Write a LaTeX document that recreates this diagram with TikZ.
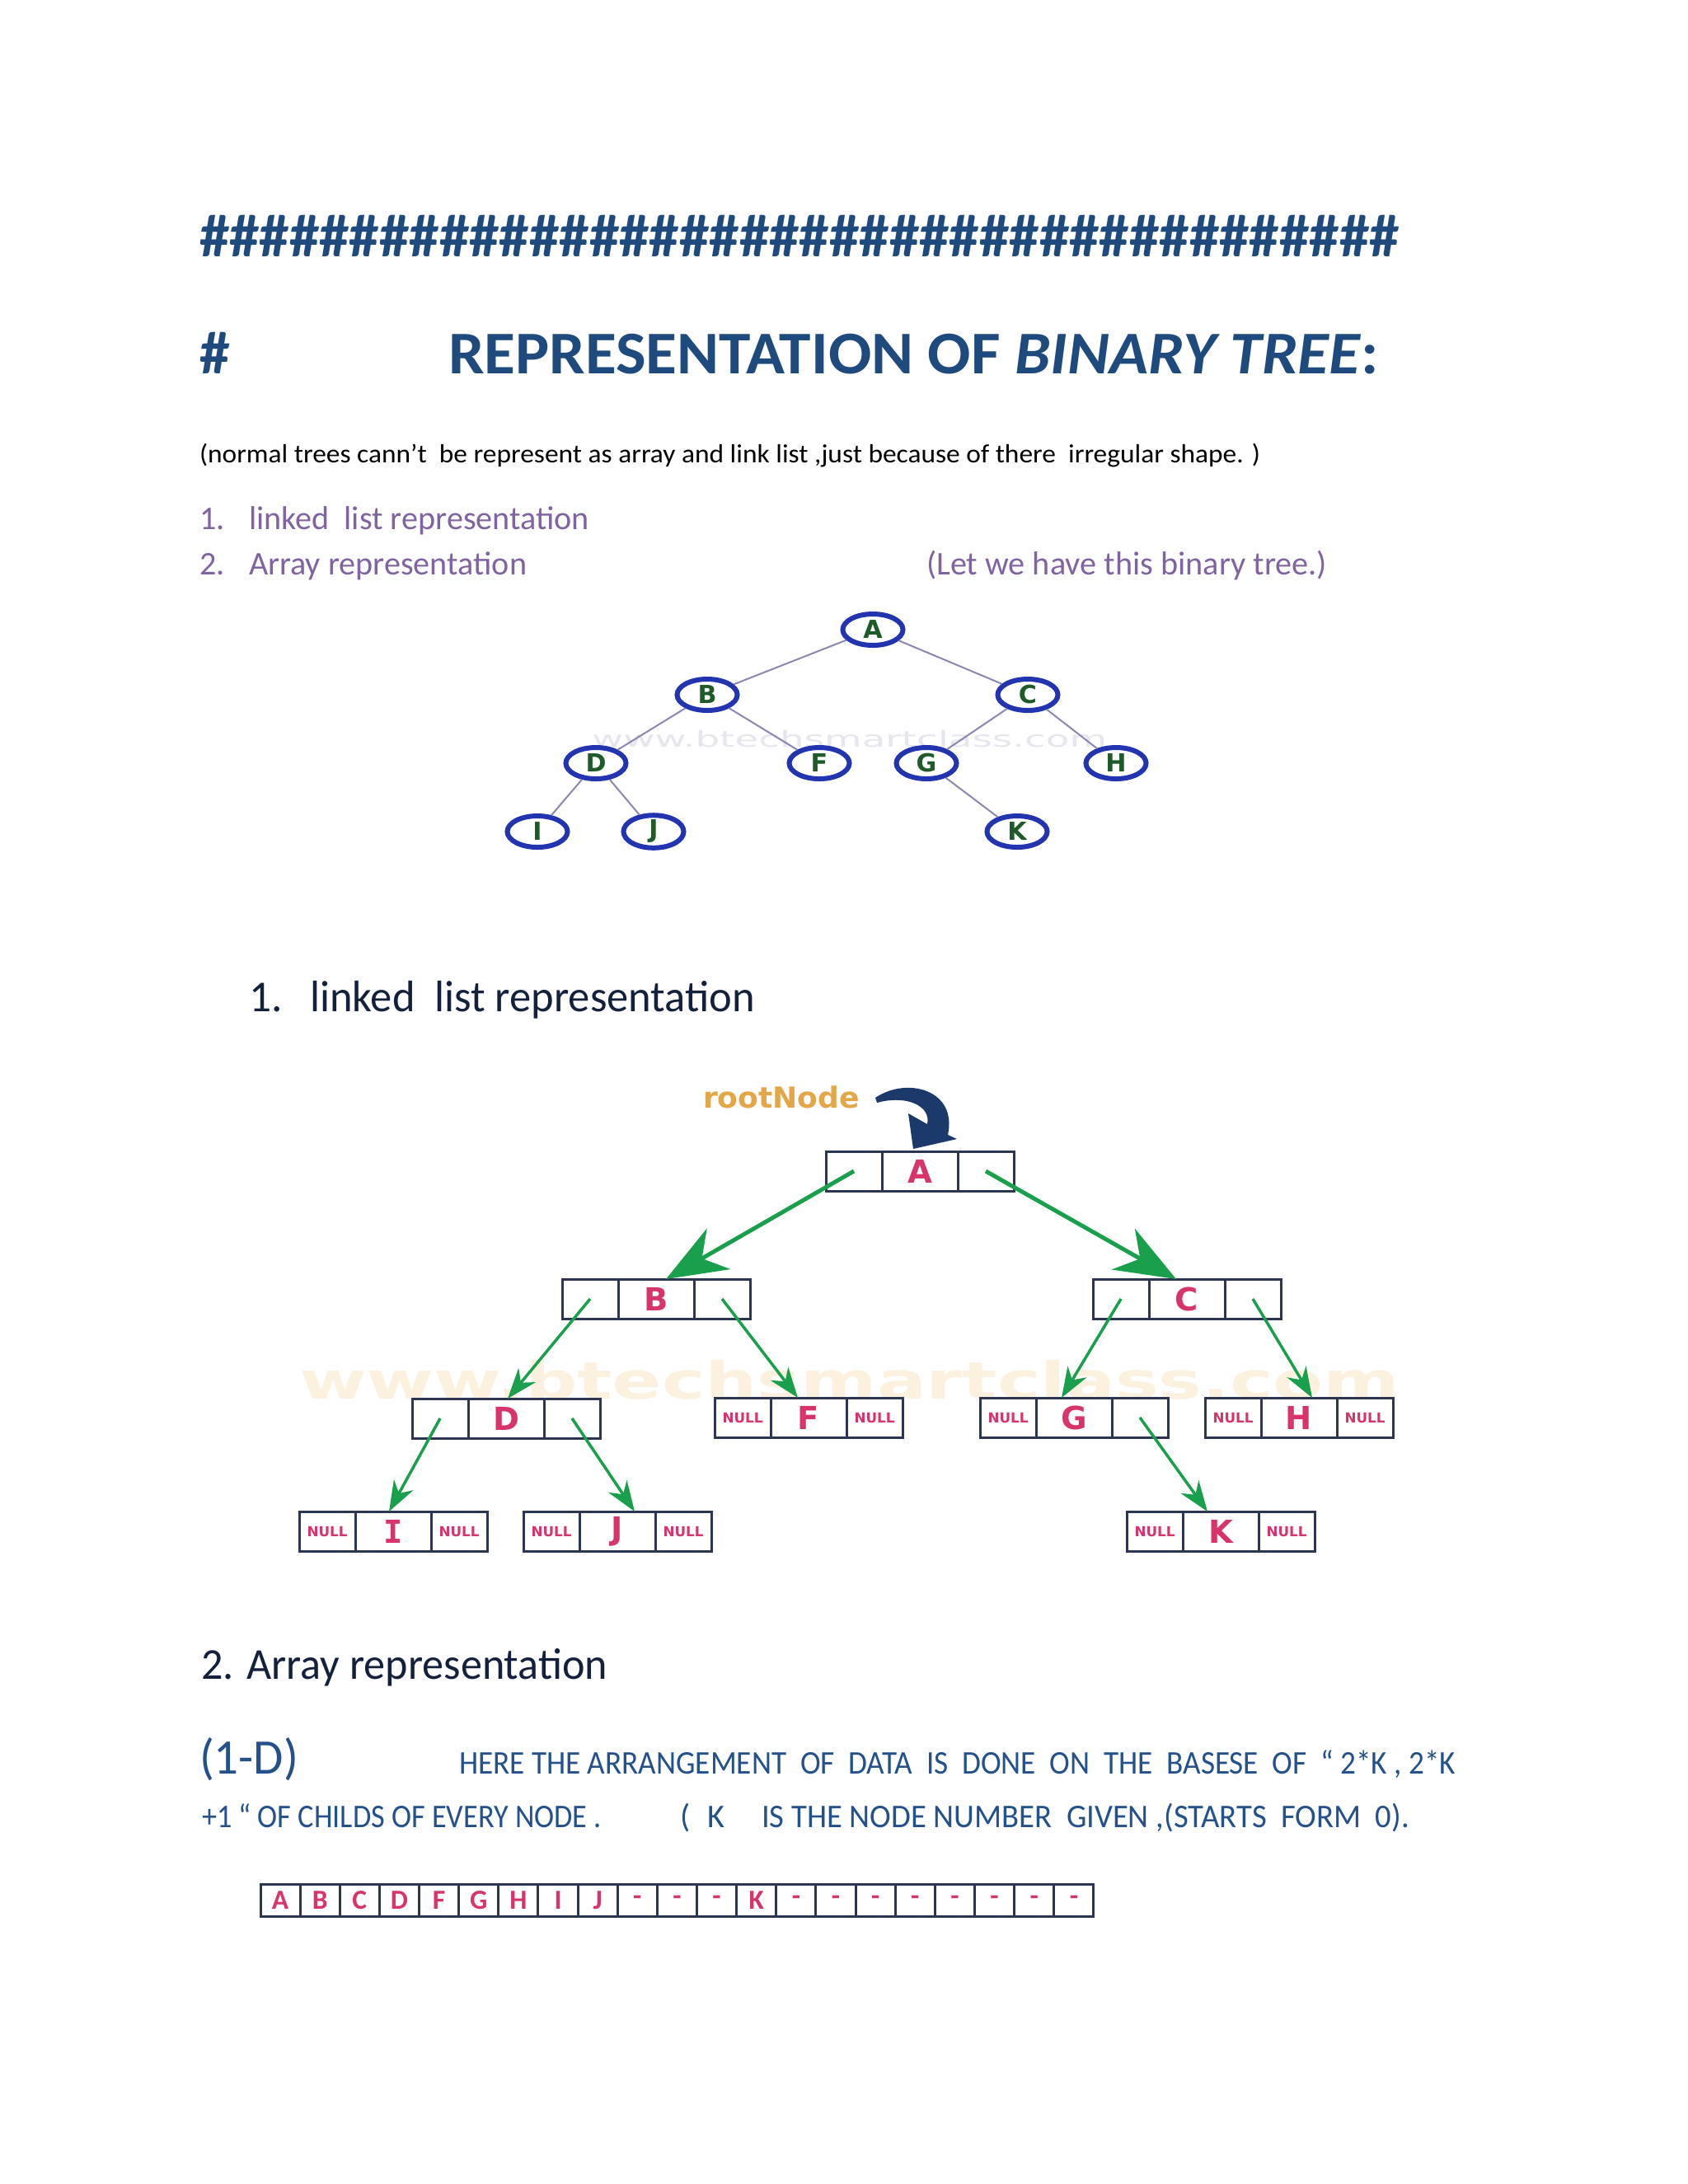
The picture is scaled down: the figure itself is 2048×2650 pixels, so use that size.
\documentclass[tikz,border=0pt]{standalone}
\usepackage{fontspec}
\setmainfont{Carlito}
\newfontfamily\dvs{DejaVu Sans}
\newfontfamily\dvm{DejaVu Sans Mono}
\usetikzlibrary{shapes.geometric,arrows.meta,calc}
\newcommand\pxu{0.29883pt}
\newlength\pxl \setlength\pxl{0.29883pt}
\newcommand\fitw[2]{\resizebox{#1\pxl}{\height}{#2}}
\definecolor{hashc}{HTML}{1F4A7E}
\definecolor{purp}{HTML}{8064A2}
\definecolor{dkhead}{HTML}{14213D}
\definecolor{blu}{HTML}{24508C}
\definecolor{ellb}{HTML}{2234B0}
\definecolor{edgec}{HTML}{8A88B0}
\definecolor{treeg}{HTML}{1E5B28}
\definecolor{boxc}{HTML}{2C3652}
\definecolor{pinkc}{HTML}{D8336B}
\definecolor{arrg}{HTML}{1A9F4C}
\definecolor{rootc}{HTML}{E3A748}
\definecolor{rootarr}{HTML}{1B3A6B}
\definecolor{wmone}{HTML}{E6E6EE}
\definecolor{wmtwo}{HTML}{FCF1DF}
\newcommand\llbox[6]{%
  \node[midcell] (#1) at (#2,#3) {#4};
  \node[sidecell, anchor=east] (#1l) at (#1.west) {#5};
  \node[sidecell, anchor=west] (#1r) at (#1.east) {#6};}
\begin{document}
\begin{tikzpicture}[x=\pxu, y=-\pxu,
  txt/.style={anchor=base west, inner sep=0, outer sep=0},
  tn/.style={ellipse, draw=ellb, line width=6*\pxu, minimum width=73*\pxu, minimum height=38*\pxu, inner sep=0, fill=white, text=treeg, font=\dvs\bfseries\fontsize{9}{10}\selectfont},
  tedge/.style={draw=edgec, line width=2*\pxu},
  midcell/.style={draw=boxc, line width=3*\pxu, minimum width=92*\pxu, minimum height=48*\pxu, inner sep=0, outer sep=0, text=pinkc, font=\dvs\bfseries\fontsize{11.5}{12}\selectfont},
  sidecell/.style={draw=boxc, line width=3*\pxu, minimum width=68*\pxu, minimum height=48*\pxu, inner sep=0, outer sep=0, text=pinkc, font=\dvs\bfseries\fontsize{5}{6}\selectfont},
  bigarr/.style={draw=arrg, line width=5*\pxu, -{Stealth[length=22pt, width=17pt, inset=7pt]}},
  smarr/.style={draw=arrg, line width=3.5*\pxu, -{Stealth[length=11pt, width=8pt, inset=3.5pt]}},
  acell/.style={draw=boxc, line width=3*\pxu, minimum width=48.14*\pxu, minimum height=39*\pxu, inner sep=0, outer sep=0, text=pinkc, font=\bfseries\fontsize{10}{12}\selectfont}]
\useasboundingbox (0,0) rectangle (2048,2650);
\fill[white] (0,0) rectangle (2048,2650);

% headings
\node[txt, text=hashc, font=\bfseries\fontsize{22}{26}\selectfont] (hashes) at (242,311)
  {\fitw{1456}{\#\#\#\#\#\#\#\#\#\#\#\#\#\#\#\#\#\#\#\#\#\#\#\#\#\#\#\#\#\#\#\#\#\#\#\#\#\#\#\#}};
\node[txt, text=hashc, font=\bfseries\fontsize{22}{26}\selectfont] (hashone) at (242,453) {\#};
\node[txt, text=hashc, font=\bfseries\fontsize{22}{26}\selectfont] (title) at (544,453)
  {\fitw{1129}{REPRESENTATION OF \textit{BINARY TREE}:}};
\node[txt, font=\fontsize{9.5}{11}\selectfont] (note) at (242,561)
  {\fitw{1287}{(normal trees cann’t\ \ be represent as array and link list ,just because of there\ \ irregular shape. )}};
\node[txt, text=purp, font=\fontsize{12}{14}\selectfont] (lonen) at (242,642) {1.};
\node[txt, text=purp, font=\fontsize{12}{14}\selectfont] (lone) at (302,642) {\fitw{413}{linked\ \ list representation}};
\node[txt, text=purp, font=\fontsize{12}{14}\selectfont] (ltwon) at (242,697) {2.};
\node[txt, text=purp, font=\fontsize{12}{14}\selectfont] (ltwo) at (302,697) {\fitw{337}{Array representation}};
\node[txt, text=purp, font=\fontsize{12}{14}\selectfont] (letwe) at (1124,697) {\fitw{486}{(Let we have this binary tree.)}};

% binary tree picture
\node[txt, text=wmone, font=\dvs\fontsize{8}{9}\selectfont] (wmtree) at (718,906) {\fitw{625}{www.btechsmartclass.com}};
\node[tn] (tA) at (1059,764) {A};
\node[tn] (tB) at (858,843) {B};
\node[tn] (tC) at (1247,843) {C};
\node[tn] (tD) at (723,926) {D};
\node[tn] (tF) at (994,926) {F};
\node[tn] (tG) at (1124,926) {G};
\node[tn] (tH) at (1354,926) {H};
\node[tn] (tI) at (652,1009) {I};
\node[tn] (tJ) at (793,1009) {J};
\node[tn] (tK) at (1234,1009) {K};
\draw[tedge] (tA) -- (tB);
\draw[tedge] (tA) -- (tC);
\draw[tedge] (tB) -- (tD);
\draw[tedge] (tB) -- (tF);
\draw[tedge] (tC) -- (tG);
\draw[tedge] (tC) -- (tH);
\draw[tedge] (tD) -- (tI);
\draw[tedge] (tD) -- (tJ);
\draw[tedge] (tG) -- (tK);

% linked list heading
\node[txt, text=dkhead, font=\fontsize{16}{19}\selectfont] (hlln) at (302,1227) {1.};
\node[txt, text=dkhead, font=\fontsize{16}{19}\selectfont] (hll) at (376,1227) {\fitw{540}{linked\ \ list representation}};

% linked list picture
\node[txt, text=wmtwo, font=\dvs\bfseries\fontsize{18.5}{20}\selectfont] (wmll) at (363,1697) {\fitw{1335}{www.btechsmartclass.com}};
\node[txt, text=rootc, font=\dvs\bfseries\fontsize{10.5}{12}\selectfont] (root) at (853,1344) {\fitw{190}{rootNode}};
\fill[rootarr] (1062,1332) .. controls (1100,1306) and (1162,1322) .. (1150,1377)
  -- (1161,1382) -- (1108,1394) -- (1102,1351) -- (1125,1364)
  .. controls (1130,1342) and (1100,1328) .. (1064,1338) -- cycle;

\llbox{LA}{1116}{1421}{A}{}{}
\llbox{LB}{796}{1576}{B}{}{}
\llbox{LC}{1440}{1576}{C}{}{}
\llbox{LD}{614}{1721}{D}{}{}
\llbox{LF}{981}{1720}{F}{NULL}{NULL}
\llbox{LG}{1303}{1720}{G}{NULL}{}
\llbox{LH}{1576}{1720}{H}{NULL}{NULL}
\llbox{LI}{477}{1858}{{\dvm\bfseries I}}{NULL}{NULL}
\llbox{LJ}{749}{1858}{J}{NULL}{NULL}
\llbox{LK}{1481}{1858}{K}{NULL}{NULL}

\draw[bigarr] (LAl.center) -- ($(LB.north)+(12,0)$);
\draw[bigarr] (LAr.center) -- ($(LC.north)+(-13,0)$);
\draw[smarr] (LBl.center) -- ($(LD.north)+(2,0)$);
\draw[smarr] (LBr.center) -- ($(LF.north)+(-13,0)$);
\draw[smarr] (LCl.center) -- ($(LG.north)+(-15,0)$);
\draw[smarr] (LCr.center) -- ($(LH.north)+(16,0)$);
\draw[smarr] (LDl.center) -- ($(LI.north)+(-5,0)$);
\draw[smarr] (LDr.center) -- ($(LJ.north)+(21,0)$);
\draw[smarr] (LGr.center) -- ($(LK.north)+(-16,0)$);

% array representation
\node[txt, text=dkhead, font=\fontsize{16}{19}\selectfont] (harr) at (244,2037) {\fitw{493}{2. Array representation}};
\node[txt, text=blu, font=\fontsize{18}{21}\selectfont] (oned) at (242,2152) {\fitw{120}{(1-D)}};
\node[txt, text=blu, font=\fontsize{12}{14}\selectfont] (here) at (557,2152)
  {\fitw{1209}{HERE THE ARRANGEMENT\ \ OF\ \ DATA\ \ IS\ \ DONE\ \ ON\ \ THE\ \ BASESE\ \ OF\ \ “ 2*K , 2*K}};
\node[txt, text=blu, font=\fontsize{12}{14}\selectfont] (plus) at (245,2217) {\fitw{485}{+1 “ OF CHILDS OF EVERY NODE .}};
\node[txt, text=blu, font=\fontsize{12}{14}\selectfont] (paren) at (825,2217) {(};
\node[txt, text=blu, font=\fontsize{12}{14}\selectfont] (kk) at (858,2217) {K};
\node[txt, text=blu, font=\fontsize{12}{14}\selectfont] (isthe) at (924,2217)
  {\fitw{786}{IS THE NODE NUMBER\ \ GIVEN ,(STARTS\ \ FORM\ \ 0).}};
\foreach \t [count=\i] in {A,B,C,D,F,G,H,I,J,-,-,-,K,-,-,-,-,-,-,-,-}
  \node[acell] (arr\i) at ({316+48.14*(\i-0.5)},2305.5) {\t};
\end{tikzpicture}
\end{document}
